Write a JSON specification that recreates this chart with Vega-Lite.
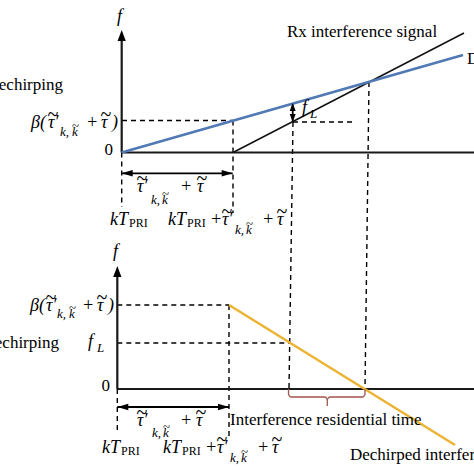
{
  "$schema": "https://vega.github.io/schema/vega-lite/v6.json",
  "description": "Frequency-time sketch of an interference chirp before and after dechirping.",
  "width": 474,
  "height": 474,
  "autosize": "none",
  "padding": 0,
  "background": "white",
  "config": {"view": {"stroke": null}, "text": {"font": "Liberation Serif", "color": "black"}},
  "datasets": {
    "paths": [
      {"id": "ty", "s": "axis", "i": 0, "x": 121.7, "y": 152.5},
      {"id": "ty", "s": "axis", "i": 1, "x": 121.7, "y": 40},
      {"id": "tx", "s": "axis", "i": 0, "x": 121.7, "y": 152.5},
      {"id": "tx", "s": "axis", "i": 1, "x": 480, "y": 152.5},
      {"id": "by", "s": "axis", "i": 0, "x": 117.3, "y": 389},
      {"id": "by", "s": "axis", "i": 1, "x": 117.3, "y": 276},
      {"id": "bx", "s": "axis", "i": 0, "x": 117.3, "y": 389},
      {"id": "bx", "s": "axis", "i": 1, "x": 480, "y": 389},
      {"id": "ref", "s": "ref", "i": 0, "x": 121.7, "y": 152.5},
      {"id": "ref", "s": "ref", "i": 1, "x": 463, "y": 55},
      {"id": "rx", "s": "rx", "i": 0, "x": 233, "y": 152.5},
      {"id": "rx", "s": "rx", "i": 1, "x": 464, "y": 33},
      {"id": "dc", "s": "dechirped", "i": 0, "x": 229, "y": 305},
      {"id": "dc", "s": "dechirped", "i": 1, "x": 455, "y": 445},
      {"id": "br1", "s": "brace", "i": 0, "x": 288.5, "y": 389},
      {"id": "br1", "s": "brace", "i": 1, "x": 288.5, "y": 394.5},
      {"id": "br1", "s": "brace", "i": 2, "x": 291, "y": 397},
      {"id": "br1", "s": "brace", "i": 3, "x": 325, "y": 397},
      {"id": "br1", "s": "brace", "i": 4, "x": 327.3, "y": 399.5},
      {"id": "br1", "s": "brace", "i": 5, "x": 327.3, "y": 406},
      {"id": "br2", "s": "brace", "i": 0, "x": 327.3, "y": 399.5},
      {"id": "br2", "s": "brace", "i": 1, "x": 329.6, "y": 397},
      {"id": "br2", "s": "brace", "i": 2, "x": 362.5, "y": 397},
      {"id": "br2", "s": "brace", "i": 3, "x": 365, "y": 394.5},
      {"id": "br2", "s": "brace", "i": 4, "x": 365, "y": 389}
    ],
    "dashes": [
      {"x": 122, "y": 120.5, "x2": 233, "y2": 120.5},
      {"x": 233, "y": 120.5, "x2": 233, "y2": 213},
      {"x": 121.7, "y": 152.5, "x2": 121.7, "y2": 207},
      {"x": 293, "y": 122, "x2": 289, "y2": 389},
      {"x": 369, "y": 82, "x2": 365, "y2": 389},
      {"x": 293, "y": 122, "x2": 352, "y2": 122},
      {"x": 117.3, "y": 305, "x2": 229, "y2": 305},
      {"x": 229, "y": 305, "x2": 229, "y2": 437},
      {"x": 117.3, "y": 343, "x2": 290, "y2": 343},
      {"x": 117.3, "y": 389, "x2": 117.3, "y2": 430}
    ],
    "spans": [
      {"x": 121.7, "y": 173.3, "x2": 232.7, "y2": 173.3},
      {"x": 292.7, "y": 103, "x2": 292.7, "y2": 122},
      {"x": 117.3, "y": 407, "x2": 229, "y2": 407}
    ],
    "heads": [
      {"g": "big", "d": "up", "x": 121.7, "y": 35.5},
      {"g": "big", "d": "up", "x": 117.3, "y": 271.5},
      {"g": "big", "d": "left", "x": 127.2, "y": 173.3},
      {"g": "big", "d": "right", "x": 227.2, "y": 173.3},
      {"g": "big", "d": "left", "x": 122.8, "y": 407},
      {"g": "big", "d": "right", "x": 223.5, "y": 407},
      {"g": "small", "d": "up", "x": 292.7, "y": 107},
      {"g": "small", "d": "down", "x": 292.7, "y": 118}
    ],
    "labels": [
      {"c": "w", "x": 287, "y": 37, "t": "Rx interference signal"},
      {"c": "w", "x": 467, "y": 64, "t": "Dechirping signal"},
      {"c": "wr", "x": 63, "y": 90, "t": "Before dechirping"},
      {"c": "wr", "x": 59, "y": 348, "t": "After dechirping"},
      {"c": "w", "x": 230, "y": 425, "t": "Interference residential time"},
      {"c": "w", "x": 350, "y": 460, "t": "Dechirped interference"},
      {"c": "wr", "x": 113, "y": 155, "t": "0"},
      {"c": "wr", "x": 110, "y": 391, "t": "0"},

      {"c": "m", "x": 117, "y": 22, "t": "f"},
      {"c": "m", "x": 113, "y": 257, "t": "f"},
      {"c": "m", "x": 302, "y": 113, "t": "f"},
      {"c": "s", "x": 310, "y": 118, "t": "L"},
      {"c": "m", "x": 88, "y": 347, "t": "f"},
      {"c": "s", "x": 97, "y": 352, "t": "L"},

      {"c": "m", "x": 31, "y": 128, "t": "β("},
      {"c": "m", "x": 48, "y": 128, "t": "τ′"},
      {"c": "tl", "x": 53, "y": 121, "t": "~"},
      {"c": "s", "x": 60, "y": 136, "t": "k,"},
      {"c": "s", "x": 72, "y": 136, "t": "k"},
      {"c": "ts", "x": 75.5, "y": 130, "t": "~"},
      {"c": "m", "x": 86, "y": 128, "t": "+"},
      {"c": "m", "x": 101, "y": 128, "t": "τ"},
      {"c": "tl", "x": 106, "y": 121, "t": "~"},
      {"c": "m", "x": 112, "y": 128, "t": ")"},

      {"c": "m", "x": 137, "y": 192, "t": "τ′"},
      {"c": "tl", "x": 142, "y": 185, "t": "~"},
      {"c": "s", "x": 151, "y": 204, "t": "k,"},
      {"c": "s", "x": 162, "y": 204, "t": "k"},
      {"c": "ts", "x": 165.5, "y": 198, "t": "~"},
      {"c": "m", "x": 180, "y": 192, "t": "+"},
      {"c": "m", "x": 197, "y": 192, "t": "τ"},
      {"c": "tl", "x": 202, "y": 185, "t": "~"},

      {"c": "m", "x": 110, "y": 225, "t": "kT"},
      {"c": "p", "x": 129, "y": 227, "t": "PRI"},

      {"c": "m", "x": 168, "y": 225, "t": "kT"},
      {"c": "p", "x": 187, "y": 227, "t": "PRI"},
      {"c": "m", "x": 210, "y": 225, "t": "+"},
      {"c": "m", "x": 222, "y": 225, "t": "τ′"},
      {"c": "tl", "x": 227, "y": 218, "t": "~"},
      {"c": "s", "x": 235, "y": 234, "t": "k,"},
      {"c": "s", "x": 246, "y": 234, "t": "k"},
      {"c": "ts", "x": 249.5, "y": 228, "t": "~"},
      {"c": "m", "x": 262, "y": 225, "t": "+"},
      {"c": "m", "x": 277, "y": 225, "t": "τ"},
      {"c": "tl", "x": 282, "y": 218, "t": "~"},

      {"c": "m", "x": 30, "y": 310.5, "t": "β("},
      {"c": "m", "x": 46, "y": 310.5, "t": "τ′"},
      {"c": "tl", "x": 51, "y": 303.5, "t": "~"},
      {"c": "s", "x": 57, "y": 318, "t": "k,"},
      {"c": "s", "x": 69, "y": 318, "t": "k"},
      {"c": "ts", "x": 72.5, "y": 312, "t": "~"},
      {"c": "m", "x": 82, "y": 310.5, "t": "+"},
      {"c": "m", "x": 97, "y": 310.5, "t": "τ"},
      {"c": "tl", "x": 102, "y": 303.5, "t": "~"},
      {"c": "m", "x": 108, "y": 310.5, "t": ")"},

      {"c": "m", "x": 137, "y": 426, "t": "τ′"},
      {"c": "tl", "x": 142, "y": 419, "t": "~"},
      {"c": "s", "x": 152, "y": 437, "t": "k,"},
      {"c": "s", "x": 163, "y": 437, "t": "k"},
      {"c": "ts", "x": 166.5, "y": 431, "t": "~"},
      {"c": "m", "x": 180, "y": 426, "t": "+"},
      {"c": "m", "x": 196, "y": 426, "t": "τ"},
      {"c": "tl", "x": 201, "y": 419, "t": "~"},

      {"c": "m", "x": 102, "y": 453, "t": "kT"},
      {"c": "p", "x": 121, "y": 455, "t": "PRI"},

      {"c": "m", "x": 163, "y": 453, "t": "kT"},
      {"c": "p", "x": 182, "y": 455, "t": "PRI"},
      {"c": "m", "x": 205, "y": 453, "t": "+"},
      {"c": "m", "x": 217, "y": 453, "t": "τ′"},
      {"c": "tl", "x": 222, "y": 446, "t": "~"},
      {"c": "s", "x": 230, "y": 462, "t": "k,"},
      {"c": "s", "x": 241, "y": 462, "t": "k"},
      {"c": "ts", "x": 244.5, "y": 456, "t": "~"},
      {"c": "m", "x": 257, "y": 453, "t": "+"},
      {"c": "m", "x": 272, "y": 453, "t": "τ"},
      {"c": "tl", "x": 277, "y": 446, "t": "~"}
    ]
  },
  "encoding": {
    "x": {"field": "x", "type": "quantitative", "scale": {"domain": [0, 474], "nice": false, "zero": false}, "axis": null},
    "y": {"field": "y", "type": "quantitative", "scale": {"domain": [0, 474], "nice": false, "zero": false, "reverse": true}, "axis": null}
  },
  "layer": [
    {
      "data": {"name": "dashes"},
      "mark": {"type": "rule", "strokeDash": [5, 4], "strokeWidth": 1.4, "color": "black"},
      "encoding": {"x2": {"field": "x2"}, "y2": {"field": "y2"}}
    },
    {
      "data": {"name": "spans"},
      "mark": {"type": "rule", "strokeWidth": 1.8, "color": "black"},
      "encoding": {"x2": {"field": "x2"}, "y2": {"field": "y2"}}
    },
    {
      "data": {"name": "paths"},
      "transform": [{"filter": "datum.s === 'axis'"}],
      "mark": {"type": "line", "strokeWidth": 2.2, "color": "#1a1a1a"},
      "encoding": {"detail": {"field": "id"}, "order": {"field": "i", "type": "quantitative"}}
    },
    {
      "data": {"name": "paths"},
      "transform": [{"filter": "datum.s === 'rx'"}],
      "mark": {"type": "line", "strokeWidth": 1.5, "color": "#111111"},
      "encoding": {"detail": {"field": "id"}, "order": {"field": "i", "type": "quantitative"}}
    },
    {
      "data": {"name": "paths"},
      "transform": [{"filter": "datum.s === 'ref'"}],
      "mark": {"type": "line", "strokeWidth": 2.8, "color": "#5079b6"},
      "encoding": {"detail": {"field": "id"}, "order": {"field": "i", "type": "quantitative"}}
    },
    {
      "data": {"name": "paths"},
      "transform": [{"filter": "datum.s === 'dechirped'"}],
      "mark": {"type": "line", "strokeWidth": 2.6, "color": "#ebb434"},
      "encoding": {"detail": {"field": "id"}, "order": {"field": "i", "type": "quantitative"}}
    },
    {
      "data": {"name": "paths"},
      "transform": [{"filter": "datum.s === 'brace'"}],
      "mark": {"type": "line", "strokeWidth": 1.3, "color": "#a3544c", "interpolate": "monotone"},
      "encoding": {"detail": {"field": "id"}, "order": {"field": "i", "type": "quantitative"}}
    },
    {
      "data": {"name": "heads"},
      "transform": [{"filter": "datum.g === 'big'"}],
      "mark": {"type": "point", "filled": true, "size": 121, "color": "black", "opacity": 1},
      "encoding": {
        "shape": {"field": "d", "type": "nominal", "legend": null,
          "scale": {"domain": ["up", "down", "left", "right"], "range": ["M0,-1L0.75,1L-0.75,1Z", "M0,1L0.75,-1L-0.75,-1Z", "M-1,0L1,0.6L1,-0.6Z", "M1,0L-1,0.6L-1,-0.6Z"]}}
      }
    },
    {
      "data": {"name": "heads"},
      "transform": [{"filter": "datum.g === 'small'"}],
      "mark": {"type": "point", "filled": true, "size": 64, "color": "black", "opacity": 1},
      "encoding": {
        "shape": {"field": "d", "type": "nominal", "legend": null,
          "scale": {"domain": ["up", "down", "left", "right"], "range": ["M0,-1L0.75,1L-0.75,1Z", "M0,1L0.75,-1L-0.75,-1Z", "M-1,0L1,0.6L1,-0.6Z", "M1,0L-1,0.6L-1,-0.6Z"]}}
      }
    },
    {
      "data": {"name": "labels"},
      "transform": [{"filter": "datum.c === 'w'"}],
      "mark": {"type": "text", "align": "left", "baseline": "alphabetic", "fontSize": 17},
      "encoding": {"text": {"field": "t"}}
    },
    {
      "data": {"name": "labels"},
      "transform": [{"filter": "datum.c === 'wr'"}],
      "mark": {"type": "text", "align": "right", "baseline": "alphabetic", "fontSize": 17},
      "encoding": {"text": {"field": "t"}}
    },
    {
      "data": {"name": "labels"},
      "transform": [{"filter": "datum.c === 'm'"}],
      "mark": {"type": "text", "align": "left", "baseline": "alphabetic", "fontSize": 18, "fontStyle": "italic"},
      "encoding": {"text": {"field": "t"}}
    },
    {
      "data": {"name": "labels"},
      "transform": [{"filter": "datum.c === 's'"}],
      "mark": {"type": "text", "align": "left", "baseline": "alphabetic", "fontSize": 13, "fontStyle": "italic"},
      "encoding": {"text": {"field": "t"}}
    },
    {
      "data": {"name": "labels"},
      "transform": [{"filter": "datum.c === 'p'"}],
      "mark": {"type": "text", "align": "left", "baseline": "alphabetic", "fontSize": 12},
      "encoding": {"text": {"field": "t"}}
    },
    {
      "data": {"name": "labels"},
      "transform": [{"filter": "datum.c === 'tl'"}],
      "mark": {"type": "text", "align": "center", "baseline": "alphabetic", "fontSize": 20},
      "encoding": {"text": {"field": "t"}}
    },
    {
      "data": {"name": "labels"},
      "transform": [{"filter": "datum.c === 'ts'"}],
      "mark": {"type": "text", "align": "center", "baseline": "alphabetic", "fontSize": 13},
      "encoding": {"text": {"field": "t"}}
    }
  ]
}
